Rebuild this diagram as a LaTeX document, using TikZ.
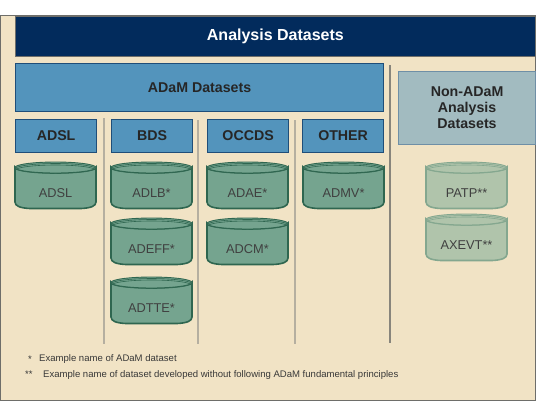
\documentclass[tikz,border=0pt]{standalone}
\usepackage{fontspec}
\setmainfont{Liberation Sans}
\definecolor{cream}{HTML}{F1E3C5}
\definecolor{navy}{HTML}{022B5C}
\definecolor{bluefill}{HTML}{5394BC}
\definecolor{blueedge}{HTML}{1F4E79}
\definecolor{greyblue}{HTML}{A2BBC0}
\definecolor{greyedge}{HTML}{6F8FA6}
\definecolor{gfill}{HTML}{75A48F}
\definecolor{gedge}{HTML}{2F6650}
\definecolor{lfill}{HTML}{B0C4AB}
\definecolor{ledge}{HTML}{84A78F}
\definecolor{rule}{HTML}{B5AFA0}
\definecolor{frameedge}{HTML}{6E6E6A}
\tikzset{
  x=1pt,y=-1pt,
  titlebox/.style={draw=frameedge,line width=.8pt,fill=navy,text=white,font=\bfseries\fontsize{16}{18}\selectfont,inner sep=0pt},
  bluebox/.style={draw=blueedge,line width=1.2pt,fill=bluefill,text=black!85,font=\bfseries\fontsize{14.2}{16}\selectfont,inner sep=0pt},
  greybox/.style={draw=greyedge,line width=1.1pt,fill=greyblue,text=black!85,align=center,font=\bfseries\fontsize{14.2}{16}\selectfont,inner sep=0pt},
  divider/.style={draw=rule,line width=1.3pt},
  maindivider/.style={draw=frameedge!80!cream,line width=1.4pt},
  note/.style={anchor=west,inner sep=0pt,text=black!78,font=\fontsize{9.55}{11}\selectfont},
  dbdark/.style={draw=gedge,fill=gfill},
  dblight/.style={draw=ledge,fill=lfill},
  dblabel/.style={inner sep=0pt,font=\fontsize{12.8}{14}\selectfont,text=black!75},
}
% #1 style, #2 name, #3 left, #4 top, #5 label
\newcommand{\dbcyl}[5]{%
  \begin{scope}[shift={(#3,#4)}]
    \path[#1,line width=1.6pt] (0,5.5) arc[start angle=180,end angle=0,x radius=40.5,y radius=5.5]
      -- (81,40) .. controls (81,44) and (76,46) .. (66,46.5)
      -- (15,46.5) .. controls (5,46) and (0,44) .. (0,40) -- cycle;
    \path[#1,line width=.9pt] (0,5.5) arc[start angle=180,end angle=360,x radius=40.5,y radius=5.5]
      arc[start angle=0,end angle=180,x radius=40.5,y radius=5.5] -- cycle;
    \draw[#1,fill=none,line width=.6pt] (0,7) arc[start angle=180,end angle=360,x radius=40.5,y radius=5.5];
    \draw[#1,fill=none,line width=.6pt] (0,8.5) arc[start angle=180,end angle=360,x radius=40.5,y radius=5.5];
    \node[dblabel] (#2) at (40.5,31) {#5};
  \end{scope}}
\begin{document}
\begin{tikzpicture}
\useasboundingbox (0,0) rectangle (556,416);
\fill[white] (0,0) rectangle (556,416);
\node[draw=frameedge,line width=1pt,fill=cream,minimum width=535pt,minimum height=385pt,inner sep=0pt,anchor=north west] (frame) at (0,15) {};
\node[titlebox,minimum width=520pt,minimum height=40pt,anchor=north west] (title) at (15,16) {Analysis Datasets};
\node[bluebox,minimum width=368pt,minimum height=48pt,anchor=north west] (adam) at (15,63) {ADaM Datasets};
\node[greybox,minimum width=137pt,minimum height=73pt,anchor=north west] (nonadam) at (398,71) {Non-ADaM\\Analysis\\Datasets};
\node[bluebox,minimum width=81pt,minimum height=33pt,anchor=north west] (hadsl) at (15,119) {ADSL};
\node[bluebox,minimum width=81pt,minimum height=33pt,anchor=north west] (hbds) at (111,119) {BDS};
\node[bluebox,minimum width=81pt,minimum height=33pt,anchor=north west] (hoccds) at (207,119) {OCCDS};
\node[bluebox,minimum width=81pt,minimum height=33pt,anchor=north west] (hother) at (302,119) {OTHER};
\coordinate (d1a) at (104,118); \coordinate (d1b) at (104,344);
\coordinate (d2a) at (198,120); \coordinate (d2b) at (198,344);
\coordinate (d3a) at (295,120); \coordinate (d3b) at (295,344);
\coordinate (d4a) at (390,65);  \coordinate (d4b) at (390,343);
\draw[divider] (d1a) -- (d1b);
\draw[divider] (d2a) -- (d2b);
\draw[divider] (d3a) -- (d3b);
\draw[maindivider] (d4a) -- (d4b);
\dbcyl{dbdark}{cadsl}{15}{162}{ADSL}
\dbcyl{dbdark}{cadlb}{111}{162}{ADLB*}
\dbcyl{dbdark}{cadae}{207}{162}{ADAE*}
\dbcyl{dbdark}{cadmv}{303}{162}{ADMV*}
\dbcyl{dbdark}{cadeff}{111}{218}{ADEFF*}
\dbcyl{dbdark}{cadcm}{207}{218}{ADCM*}
\dbcyl{dbdark}{cadtte}{111}{277}{ADTTE*}
\dbcyl{dblight}{cpatp}{426}{162}{PATP**}
\dbcyl{dblight}{caxevt}{426}{214}{AXEVT**}
\node[note] (m1) at (28,359) {*};
\node[note] (n1) at (39,359) {Example name of ADaM dataset};
\node[note] (m2) at (25,374) {**};
\node[note] (n2) at (43,375) {Example name of dataset developed without following ADaM fundamental principles};
\end{tikzpicture}
\end{document}
